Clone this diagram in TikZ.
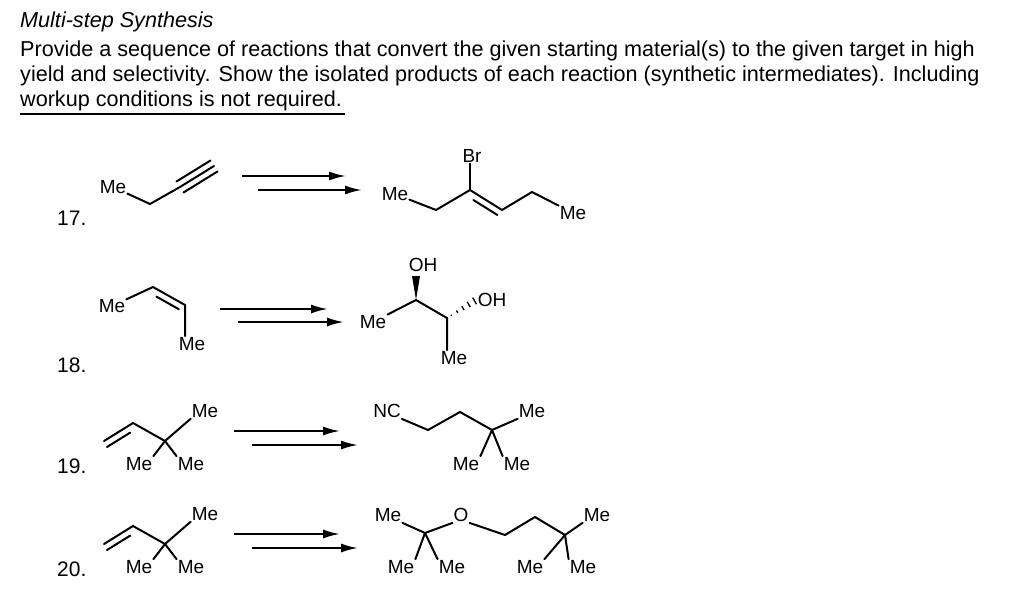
\documentclass[tikz,border=0pt]{standalone}
\usepackage{fontspec}
\setmainfont{Liberation Sans}
\usetikzlibrary{calc,arrows.meta}
\begin{document}
\begin{tikzpicture}[x=1pt,y=-1pt,
  lab/.style={inner sep=1pt,font=\fontsize{19}{19}\selectfont},
  num/.style={anchor=west,inner sep=0pt,font=\fontsize{21}{21}\selectfont},
  txt/.style={anchor=west,inner sep=0pt,font=\fontsize{21.6}{21.6}\selectfont},
  bd/.style={line width=2pt,line cap=round},
  arr/.style={line width=2pt,-{Latex[length=17pt,width=9pt]}}]
\useasboundingbox (0,0) rectangle (1024,612);
\node[txt,font=\fontsize{21.6}{21.6}\selectfont\itshape] (title) at (20,22) {Multi-step Synthesis};
\node[txt] (l1) at (20,51) {Provide a sequence of reactions that convert the given starting material(s) to the given target in high};
\node[txt] (l2) at (20,76) {yield and selectivity. Show the isolated products of each reaction (synthetic intermediates). Including};
\node[txt] (l3) at (20,101) {workup conditions is not required.};
\draw[line width=1.2pt] (20,114) -- (345,114);
% 17
\node[num] (n17) at (57,218) {17.};
\node[lab] (a1) at (113,187) {Me};
\coordinate (a2) at (150,204); \coordinate (a3) at (180,187); \coordinate (a4) at (214,166);
\draw[bd] (a1) -- (a2) -- (a3) -- (a4);
\draw[bd] ($(a3)+(-3.5,-5.5)$) -- ($(a4)+(-3.5,-5.5)$);
\draw[bd] ($(a3)+(3.5,5.5)$) -- ($(a4)+(3.5,5.5)$);
\coordinate (r17a) at (242,176); \coordinate (r17b) at (346,176);
\coordinate (r17c) at (258,190); \coordinate (r17d) at (362,190);
\draw[arr] (r17a) -- (r17b); \draw[arr] (r17c) -- (r17d);
\node[lab] (b1) at (395,194) {Me};
\coordinate (b2) at (436,210); \coordinate (b3) at (470,190); \coordinate (b4) at (502,210);
\coordinate (b5) at (532,192);
\node[lab] (b6) at (573,213) {Me};
\node[lab] (br) at (472,156) {Br};
\draw[bd] (b1) -- (b2) -- (b3) -- (b4) -- (b5) -- (b6);
\draw[bd] (b3) -- (br.south -| b3);
\draw[bd] ($(b3)!0.2!(b4)+(-3,6)$) -- ($(b3)!0.95!(b4)+(-3,6)$);
% 18
\node[num] (n18) at (57,365) {18.};
\node[lab] (c1) at (112,306) {Me};
\coordinate (c2) at (153,287); \coordinate (c3) at (185,305);
\node[lab] (c4) at (192,344) {Me};
\draw[bd] (c1) -- (c2) -- (c3) -- (c3 |- c4.north);
\draw[bd] ($(c2)!0.2!(c3)+(-3,6)$) -- ($(c2)!0.9!(c3)+(-3,6)$);
\draw[arr] (220,309) coordinate (r18a) -- (328,309) coordinate (r18b);
\draw[arr] (238,322) coordinate (r18c) -- (344,322) coordinate (r18d);
\node[lab] (d1) at (373,322) {Me};
\coordinate (d2) at (416,300); \coordinate (d3) at (447,318);
\node[lab] (oh1) at (423,265) {OH};
\node[lab] (oh2) at (492,300) {OH};
\node[lab] (d4) at (454,358) {Me};
\draw[bd] (d1) -- (d2) -- (d3) -- (d3 |- d4.north);
\fill (d2) -- (412,276) -- (420,276) -- cycle;
\foreach \t in {0.15,0.35,0.55,0.75,0.95}
  \draw[line width=1.3pt] ($(d3)!\t!(476,300)+(-\t*2,-\t*3.5)$) -- ($(d3)!\t!(476,300)+(\t*2,\t*3.5)$);
% 19 and 20
\foreach \n/\dy in {19/0,20/103}{
\begin{scope}[yshift=-\dy]
\node[num] (n\n) at (57,466) {\n.};
\coordinate (v1\n) at (104,441); \coordinate (v2\n) at (133,423); \coordinate (q\n) at (165,441);
\node[lab] (m1\n) at (205,411) {Me};
\node[lab] (m2\n) at (139,464) {Me};
\node[lab] (m3\n) at (191,464) {Me};
\draw[bd] (v1\n) -- (v2\n) -- (q\n) -- (m1\n.south west);
\draw[bd] ($(v1\n)!0.0!(v2\n)+(3,6)$) -- ($(v1\n)!0.8!(v2\n)+(3,6)$);
\draw[bd] (q\n) -- (m2\n.north east); \draw[bd] (q\n) -- (m3\n.north west);
\draw[arr] (234,431) coordinate (ra\n) -- (340,431) coordinate (rb\n);
\draw[arr] (252,445) coordinate (rc\n) -- (358,445) coordinate (rd\n);
\end{scope}}
% product 19
\node[lab] (nc) at (387,411) {NC};
\coordinate (e2) at (428,430); \coordinate (e3) at (460,412); \coordinate (e4) at (492,430);
\node[lab] (e5) at (532,411) {Me};
\node[lab] (e6) at (466,464) {Me};
\node[lab] (e7) at (517,464) {Me};
\draw[bd] (nc.south east) -- (e2) -- (e3) -- (e4) -- (e5.south west);
\draw[bd] (e4) -- (e6.north east); \draw[bd] (e4) -- (e7.north west);
% product 20
\node[lab] (f1) at (388,515) {Me};
\coordinate (f2) at (425,533);
\node[lab] (f3) at (401,567) {Me};
\node[lab] (f4) at (452,567) {Me};
\node[lab] (ox) at (461,515) {O};
\coordinate (f5) at (505,535); \coordinate (f6) at (535,517); \coordinate (f7) at (565,535);
\node[lab] (f8) at (597,515) {Me};
\node[lab] (f9) at (530,567) {Me};
\node[lab] (f10) at (583,567) {Me};
\draw[bd] (f1.south east) -- (f2) -- (ox.south west);
\draw[bd] (f2) -- (f3.north east); \draw[bd] (f2) -- (f4.north west);
\draw[bd] (ox.south east) -- (f5) -- (f6) -- (f7) -- (f8.south west);
\draw[bd] (f7) -- (f9.north east); \draw[bd] (f7) -- (f10.north west);
\end{tikzpicture}
\end{document}
